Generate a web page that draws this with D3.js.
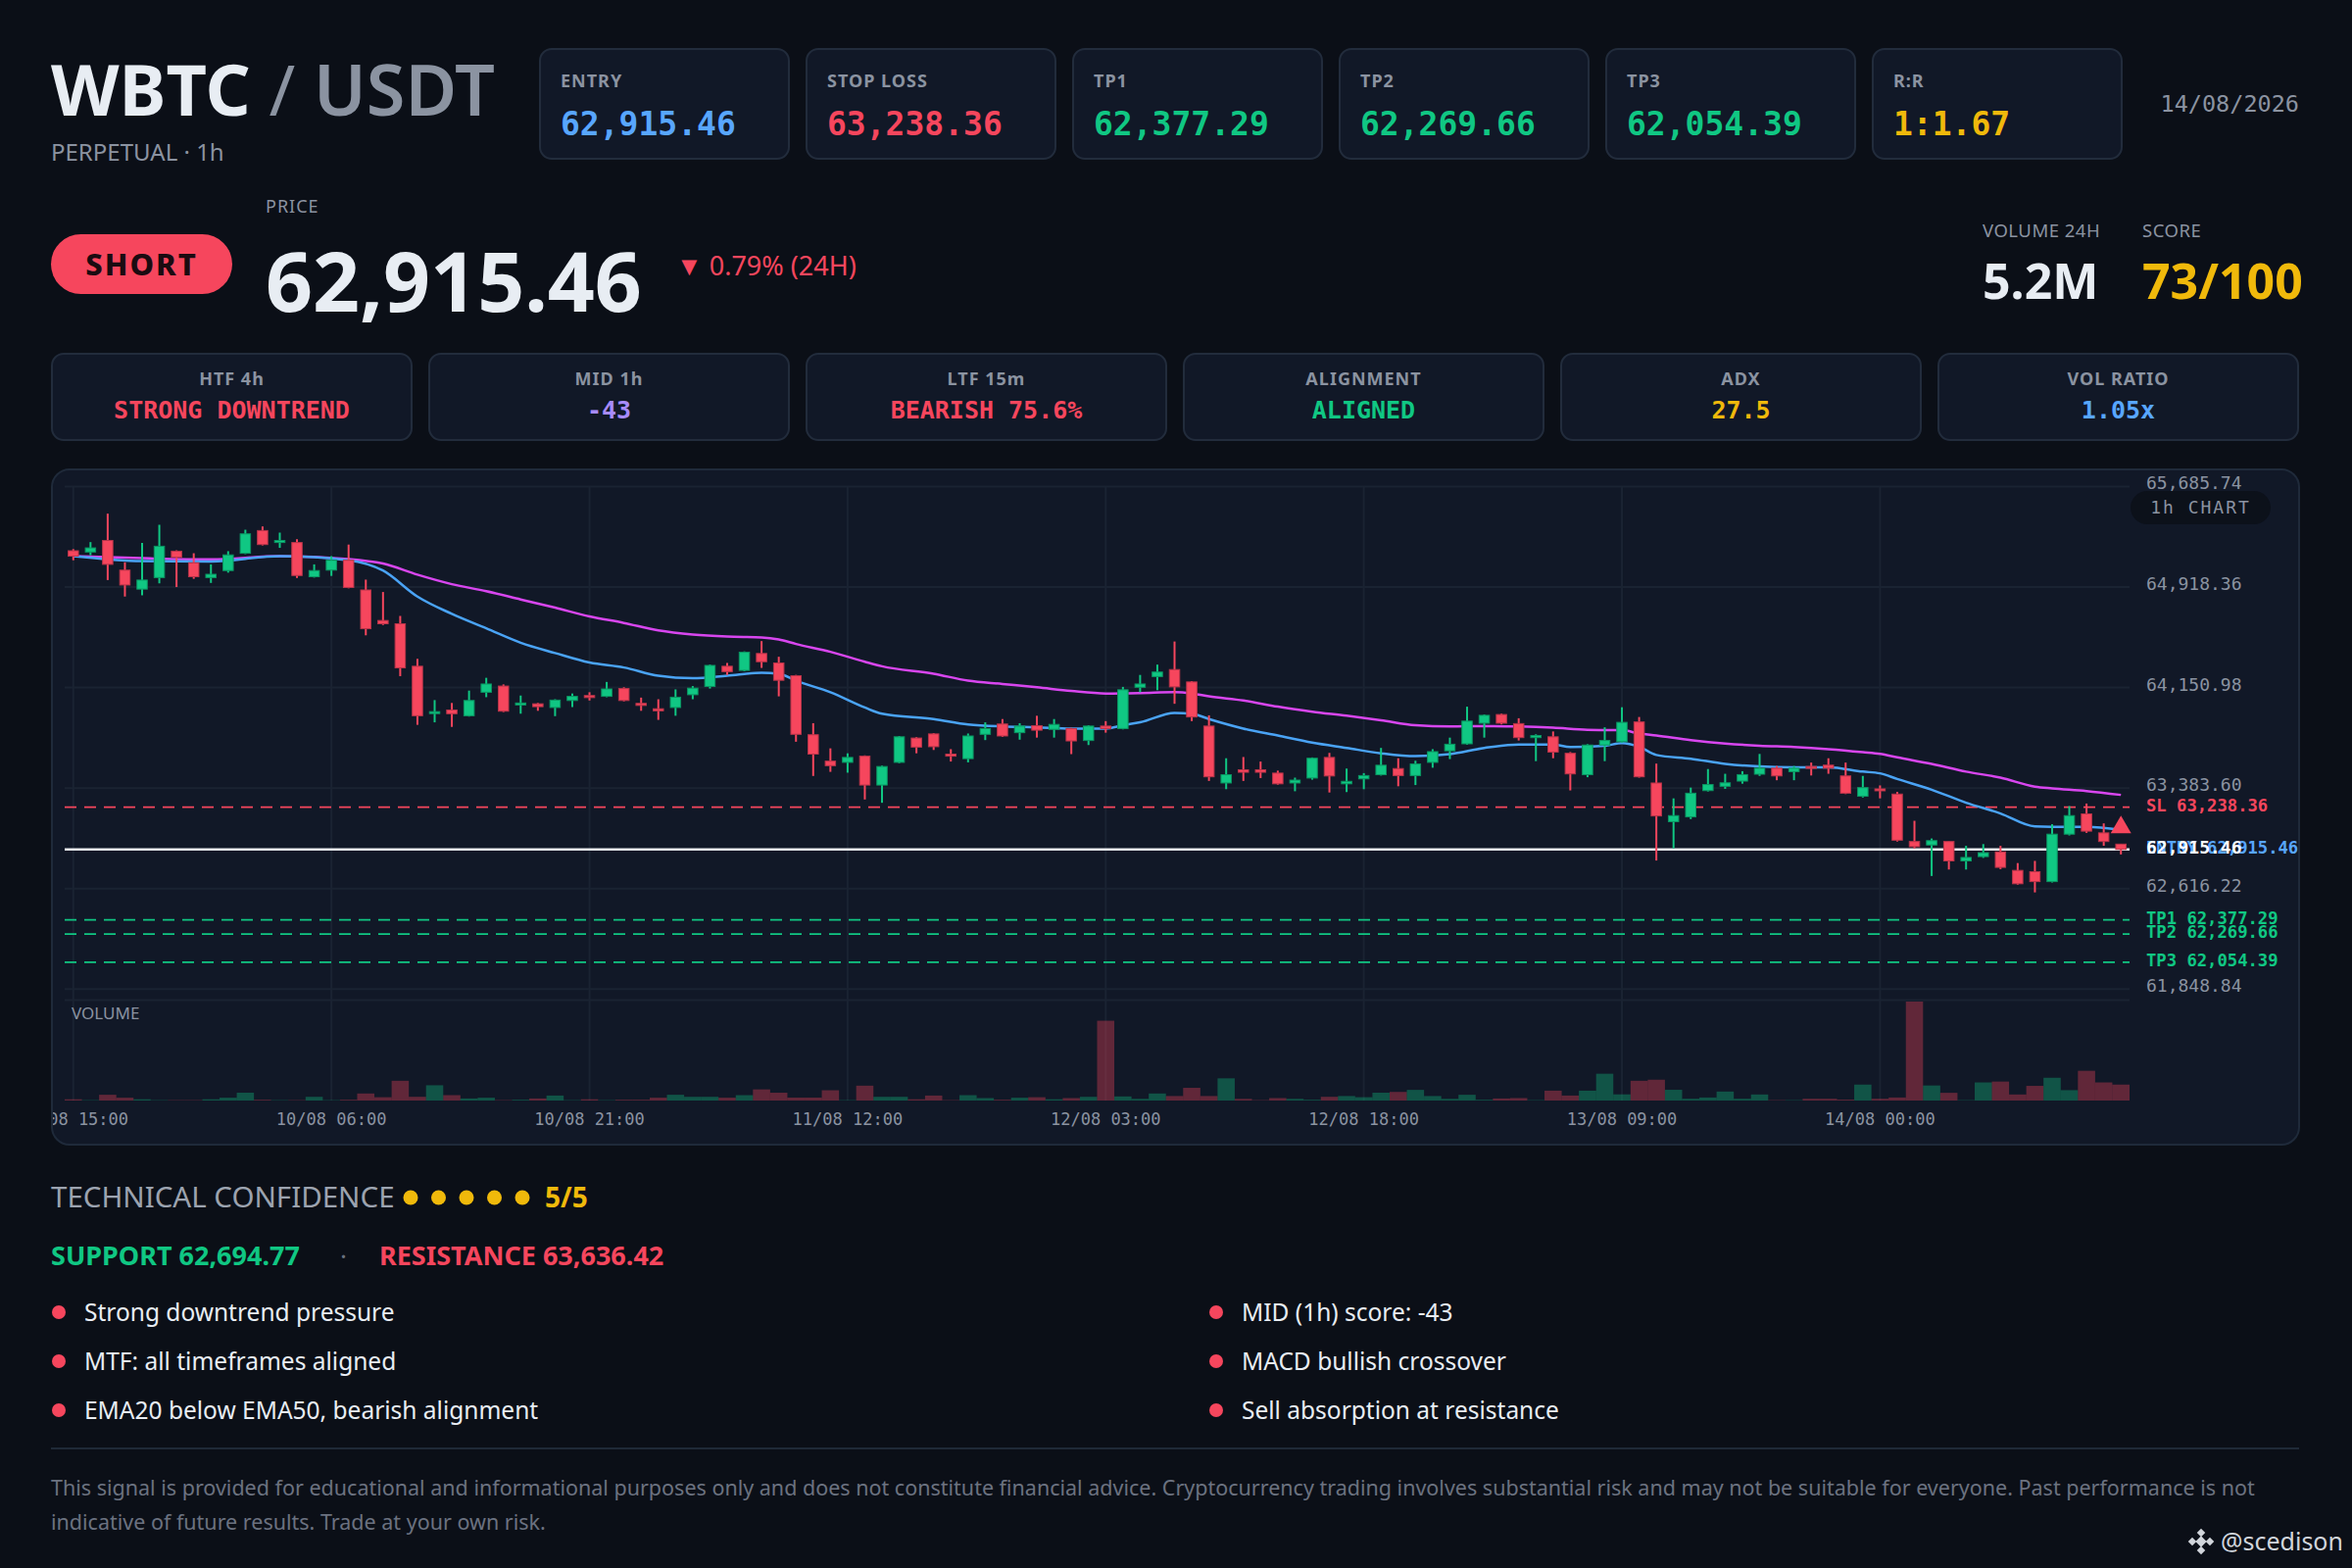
<!DOCTYPE html>
<html>
<head>
<meta charset="utf-8">
<script src="https://cdn.jsdelivr.net/npm/d3@7"></script>
<style>
  html, body { margin: 0; padding: 0; background: #0b0f17; }
  svg { display: block; }
</style>
</head>
<body>
<div id="signal"></div>
<script>
// ---------- data (index 0 = 09/08 15:00) ----------
const opens = [
  65195.0, 65185.5, 65273.7, 65047.0, 64902.1, 64990.3, 65191.8, 65103.6, 64990.3, 65043.8,
  65176.1, 65349.2, 65257.9, 65257.9, 64996.6, 65047.0, 65122.5, 64895.8, 64662.8, 64637.7,
  64313.4, 63954.4, 63979.6, 63935.5, 64115.0, 64162.2, 64020.5, 64026.8, 63998.5, 64052.0,
  64089.8, 64083.5, 64143.3, 64030.0, 63989.0, 63998.5, 64096.1, 64159.1, 64313.4, 64281.9,
  64411.0, 64338.6, 64240.9, 63790.7, 63589.1, 63579.7, 63626.9, 63406.5, 63579.7, 63765.5,
  63797.0, 63642.7, 63608.1, 63793.8, 63872.6, 63806.4, 63859.9, 63831.6, 63837.9, 63746.6,
  63856.8, 63837.9, 64152.8, 64234.6, 64288.2, 64193.7, 63856.8, 63422.3, 63523.0, 63523.0,
  63497.8, 63422.3, 63460.0, 63617.4, 63416.0, 63453.8, 63485.3, 63532.5, 63479.0, 63579.7,
  63667.9, 63721.4, 63878.8, 63945.0, 63875.7, 63768.6, 63774.9, 63649.0, 63485.3, 63712.0,
  63737.2, 63888.3, 63422.3, 63127.1, 63163.3, 63364.2, 63397.1, 63436.7, 63489.4, 63535.4,
  63509.1, 63548.6, 63558.5, 63476.2, 63321.4, 63377.4, 63337.8, 62975.6, 62949.3, 62975.6,
  62827.4, 62860.4, 62896.6, 62755.1, 62745.2, 62669.5, 63031.7, 63186.4, 63041.5, 62955.9
];
const highs = [
  65207.6, 65261.1, 65478.3, 65106.8, 65254.8, 65393.3, 65198.1, 65176.1, 65091.1, 65191.8,
  65355.5, 65380.7, 65333.5, 65283.1, 65091.1, 65154.0, 65242.2, 64974.6, 64880.1, 64697.5,
  64370.0, 64055.2, 64033.1, 64127.6, 64225.2, 64174.8, 64089.8, 64033.1, 64061.5, 64105.5,
  64115.0, 64193.7, 64152.8, 64074.0, 64061.5, 64137.0, 64162.2, 64326.0, 64338.6, 64426.7,
  64505.4, 64385.8, 64247.2, 63878.8, 63686.8, 63648.9, 63633.2, 63554.5, 63781.2, 63771.8,
  63803.3, 63680.5, 63800.1, 63885.2, 63910.4, 63878.8, 63935.5, 63910.4, 63844.2, 63863.1,
  63894.8, 64155.9, 64247.2, 64326.0, 64502.3, 64200.0, 63938.7, 63611.2, 63620.6, 63586.0,
  63516.7, 63463.2, 63617.4, 63652.1, 63532.5, 63497.8, 63690.0, 63611.2, 63592.4, 63680.5,
  63768.6, 64004.8, 63945.0, 63951.2, 63916.6, 63793.8, 63815.8, 63658.4, 63718.3, 63847.3,
  64000.5, 63926.1, 63570.3, 63304.9, 63387.2, 63528.8, 63492.6, 63512.4, 63644.1, 63551.9,
  63551.9, 63578.2, 63611.1, 63578.2, 63476.2, 63403.7, 63354.3, 63133.7, 62998.7, 62975.6,
  62942.8, 62955.9, 62942.8, 62811.0, 62827.5, 63107.5, 63245.8, 63265.5, 63114.0, 62955.9
];
const lows = [
  65122.5, 65160.3, 64971.4, 64845.5, 64854.9, 64946.2, 64917.9, 64980.8, 64949.4, 65028.1,
  65169.8, 65235.9, 65217.0, 64987.1, 64990.3, 65002.9, 64908.4, 64549.5, 64628.2, 64237.8,
  63866.3, 63885.2, 63850.5, 63929.2, 64077.2, 63963.9, 63951.2, 63973.3, 63932.4, 64001.6,
  64052.0, 64077.2, 64045.7, 63973.3, 63904.1, 63935.5, 64061.5, 64143.3, 64247.2, 64275.6,
  64300.8, 64083.5, 63737.1, 63475.8, 63507.3, 63501.0, 63296.4, 63271.2, 63573.4, 63649.0,
  63674.2, 63586.0, 63579.7, 63749.8, 63774.9, 63752.9, 63768.6, 63768.6, 63642.7, 63711.9,
  63806.4, 63831.6, 64115.0, 64130.7, 64026.8, 63894.6, 63438.0, 63375.1, 63438.0, 63460.0,
  63409.7, 63359.3, 63447.5, 63349.6, 63352.8, 63374.8, 63479.0, 63397.1, 63406.5, 63538.8,
  63604.9, 63715.1, 63768.6, 63869.4, 63746.6, 63589.1, 63611.2, 63365.6, 63466.3, 63589.1,
  63730.9, 63463.2, 62830.4, 62923.0, 63146.8, 63357.6, 63377.4, 63416.9, 63476.2, 63443.3,
  63443.3, 63479.5, 63492.6, 63337.8, 63311.5, 63305.0, 62975.6, 62923.0, 62712.3, 62761.7,
  62761.7, 62850.5, 62764.9, 62646.4, 62587.1, 62662.9, 63021.9, 63041.5, 62942.8, 62876.9
];
const closes = [
  65154.0, 65217.0, 65091.0, 64933.6, 64971.4, 65229.6, 65144.6, 64996.6, 65015.5, 65163.5,
  65324.0, 65242.2, 65273.7, 65006.0, 65043.8, 65122.5, 64914.7, 64599.8, 64637.7, 64300.8,
  63935.5, 63967.0, 63951.2, 64052.0, 64178.0, 63970.2, 64033.1, 64004.8, 64055.2, 64083.5,
  64074.0, 64140.2, 64052.0, 64014.2, 63973.3, 64077.2, 64146.5, 64319.7, 64272.4, 64420.4,
  64348.0, 64206.3, 63793.8, 63642.7, 63554.5, 63617.4, 63406.5, 63548.2, 63774.9, 63696.2,
  63699.4, 63626.9, 63781.2, 63837.9, 63781.2, 63856.8, 63825.3, 63869.4, 63743.4, 63856.8,
  63837.9, 64133.9, 64178.0, 64269.2, 64156.0, 63926.1, 63469.5, 63485.3, 63504.1, 63504.1,
  63416.0, 63444.3, 63611.2, 63475.8, 63434.9, 63479.0, 63557.7, 63479.0, 63567.2, 63661.6,
  63718.3, 63894.6, 63938.7, 63878.8, 63768.6, 63784.4, 63658.4, 63491.6, 63712.0, 63746.6,
  63885.2, 63469.5, 63170.4, 63173.2, 63344.4, 63410.3, 63423.5, 63486.1, 63535.4, 63476.2,
  63535.4, 63535.4, 63535.4, 63344.4, 63387.2, 63364.2, 62985.5, 62936.1, 62982.2, 62827.4,
  62853.8, 62890.0, 62778.1, 62653.0, 62669.5, 63031.7, 63173.2, 63054.7, 62975.6, 62915.46
];
const volumes = [
  1.3, 0.4, 5.9, 2.9, 1.3, 0.4, 0.4, 0.4, 1.3, 2.9,
  8.0, 0.8, 0.4, 0.4, 3.8, 0.4, 0.8, 7.2, 3.4, 20.2,
  3.8, 15.6, 5.5, 2.1, 2.9, 0.4, 0.8, 2.1, 5.1, 0.4,
  1.3, 0.4, 0.8, 0.8, 2.9, 5.9, 3.8, 3.8, 2.9, 5.5,
  11.4, 8.0, 3.0, 3.0, 10.5, 0.4, 15.2, 3.8, 3.8, 1.3,
  5.1, 0.4, 5.5, 2.5, 0.8, 2.9, 3.4, 1.3, 2.5, 3.8,
  81.6, 4.2, 1.7, 7.2, 4.6, 13.0, 4.6, 22.7, 1.7, 0.4,
  2.5, 1.7, 0.8, 3.8, 4.6, 3.4, 8.0, 8.8, 10.9, 4.6,
  1.7, 5.9, 0.8, 2.1, 2.5, 0.4, 10.1, 5.1, 10.1, 27.4,
  6.3, 20.2, 21.3, 11.0, 1.8, 3.1, 9.2, 1.8, 6.2, 0.4,
  0.4, 1.8, 1.8, 0.9, 16.3, 1.8, 3.1, 101.2, 15.4, 7.9,
  0.4, 18.5, 19.4, 6.2, 15.0, 23.3, 10.6, 30.4, 18.5, 16.3
];

// EMA lines, read at the candle index shown in the *Idx arrays
const ema20Idx = [0, 4, 8, 12, 16, 18, 20, 22, 24, 26, 28, 30, 32, 34, 36, 38, 40, 41, 42, 44,
  46, 47, 50, 52, 54, 56, 58, 60, 61, 62, 64, 65, 66, 68, 70, 72, 74, 76, 78, 80,
  82, 84, 86, 87, 89, 90, 91, 92, 94, 96, 98, 100, 102, 104, 105, 106, 108, 110, 112, 114,
  115, 117, 119];
const ema20 = [65154.0, 65116.2, 65113.1, 65154.0, 65122.5, 65043.8, 64845.5, 64713.2, 64603.0, 64493.0,
  64414.1, 64341.7, 64303.9, 64240.9, 64222.0, 64240.9, 64263.0, 64256.7, 64203.1, 64115.0,
  63998.5, 63951.2, 63910.4, 63869.4, 63853.6, 63847.3, 63837.9, 63837.9, 63863.1, 63885.2,
  63957.4, 63951.2, 63910.4, 63837.9, 63784.4, 63730.9, 63690.0, 63649.0, 63626.9, 63642.7,
  63690.0, 63715.1, 63715.1, 63696.2, 63705.7, 63727.7, 63699.4, 63636.4, 63607.8, 63568.3,
  63548.6, 63542.0, 63542.0, 63509.1, 63495.9, 63453.1, 63370.8, 63272.0, 63189.7, 63090.9,
  63087.6, 63087.6, 63064.6];
const ema50Idx = [0, 4, 8, 12, 16, 18, 20, 22, 24, 26, 28, 30, 32, 34, 36, 38, 40, 41, 42, 44,
  46, 47, 50, 52, 54, 56, 58, 60, 62, 64, 65, 66, 68, 70, 72, 74, 76, 78, 80, 82,
  84, 86, 88, 90, 91, 92, 94, 96, 98, 100, 102, 104, 105, 106, 108, 110, 112, 114, 115, 117,
  119];
const ema50 = [65154.0, 65138.3, 65128.8, 65154.0, 65132.0, 65097.3, 65012.3, 64939.9, 64886.4, 64823.4,
  64760.5, 64694.3, 64644.0, 64587.3, 64555.8, 64540.1, 64533.8, 64518.0, 64483.4, 64423.6,
  64348.0, 64313.4, 64256.7, 64203.1, 64178.0, 64152.8, 64124.4, 64105.5, 64108.7, 64115.0,
  64105.5, 64083.5, 64052.0, 64004.8, 63967.0, 63935.5, 63900.9, 63863.1, 63853.6, 63856.8,
  63853.6, 63844.2, 63828.4, 63825.3, 63800.1, 63785.0, 63749.5, 63723.1, 63706.6, 63696.8,
  63680.3, 63657.3, 63644.1, 63617.8, 63568.4, 63509.1, 63463.0, 63393.9, 63380.7, 63360.9,
  63331.3];

const yTicks = [61848.84, 62616.22, 63383.60, 64150.98, 64918.36, 65685.74];
const xTickIdx = [0, 15, 30, 45, 60, 75, 90, 105];
const xTickLabels = ["09/08 15:00", "10/08 06:00", "10/08 21:00", "11/08 12:00",
  "12/08 03:00", "12/08 18:00", "13/08 09:00", "14/08 00:00"];

const levelNames = ["SL", "ENTRY", "TP1", "TP2", "TP3"];
const levelValues = [63238.36, 62915.46, 62377.29, 62269.66, 62054.39];
const lastPrice = 62915.46;

const cardLabels = ["ENTRY", "STOP LOSS", "TP1", "TP2", "TP3", "R:R"];
const cardValues = ["62,915.46", "63,238.36", "62,377.29", "62,269.66", "62,054.39", "1:1.67"];
const mtfLabels = ["HTF 4h", "MID 1h", "LTF 15m", "ALIGNMENT", "ADX", "VOL RATIO"];
const mtfValues = ["STRONG DOWNTREND", "-43", "BEARISH 75.6%", "ALIGNED", "27.5", "1.05x"];
const reasonsLeft = ["Strong downtrend pressure", "MTF: all timeframes aligned", "EMA20 below EMA50, bearish alignment"];
const reasonsRight = ["MID (1h) score: -43", "MACD bullish crossover", "Sell absorption at resistance"];
const confidence = 5, confidenceMax = 5;
const support = "62,694.77", resistance = "63,636.42";
const disclaimer = [
  "This signal is provided for educational and informational purposes only and does not constitute financial advice. Cryptocurrency trading involves substantial risk and may not be suitable for everyone. Past performance is not",
  "indicative of future results. Trade at your own risk."
];

// ---------- styles ----------
const C = {
  bg: "#0b0f17", card: "#111827", border: "#222c3c", grid: "#1a2332",
  text: "#e8edf3", muted: "#8b93a1", dim: "#6b7280",
  green: "#10c783", red: "#f6465d", blue: "#58a6ff", amber: "#f0b90b", purple: "#a78bfa",
  ema20: "#4aa3f5", ema50: "#d846ef"
};
const SANS = "'Noto Sans', 'Open Sans', sans-serif";
const MONO = "'DejaVu Sans Mono', 'Liberation Mono', monospace";

const W = 2400, H = 1600;
const svg = d3.select("#signal").append("svg")
  .attr("width", W).attr("height", H)
  .style("font-family", SANS);
svg.append("rect").attr("width", W).attr("height", H).attr("fill", C.bg);

// ---------- header ----------
const title = svg.append("text").attr("x", 52).attr("y", 118)
  .attr("font-size", 72).attr("font-weight", 700);
title.append("tspan").attr("fill", C.text).text("WBTC");
title.append("tspan").attr("fill", C.muted).attr("font-weight", 400).text(" / ");
title.append("tspan").attr("fill", C.muted).attr("font-weight", 600).text("USDT");
svg.append("text").attr("x", 52).attr("y", 164).attr("font-size", 24)
  .attr("fill", C.muted).text("PERPETUAL · 1h");

const cardColor = { "ENTRY": C.blue, "STOP LOSS": C.red, "TP1": C.green, "TP2": C.green, "TP3": C.green, "R:R": C.amber };
const topCards = svg.selectAll("g.topcard").data(cardLabels).join("g")
  .attr("class", "topcard")
  .attr("transform", (d, i) => `translate(${551 + i * 272}, 50)`);
topCards.append("rect").attr("width", 254).attr("height", 112).attr("rx", 12)
  .attr("fill", C.card).attr("stroke", C.border).attr("stroke-width", 2);
topCards.append("text").attr("x", 21).attr("y", 39).attr("font-size", 18)
  .attr("font-weight", 700).attr("letter-spacing", 1).attr("fill", C.muted).text(d => d);
topCards.append("text").attr("x", 21).attr("y", 88).attr("font-size", 33)
  .attr("font-family", MONO).attr("font-weight", 700)
  .attr("fill", d => cardColor[d]).text((d, i) => cardValues[i]);

svg.append("text").attr("x", 2346).attr("y", 114).attr("text-anchor", "end")
  .attr("font-family", MONO).attr("font-size", 23.5).attr("fill", C.muted).text("14/08/2026");

// price row
svg.append("text").attr("x", 271).attr("y", 217).attr("font-size", 18)
  .attr("fill", C.muted).attr("letter-spacing", 1).text("PRICE");
svg.append("rect").attr("x", 52).attr("y", 239).attr("width", 185).attr("height", 61)
  .attr("rx", 30.5).attr("fill", C.red);
svg.append("text").attr("x", 144.5).attr("y", 281).attr("text-anchor", "middle")
  .attr("font-size", 31).attr("font-weight", 800).attr("letter-spacing", 2)
  .attr("fill", "#1b0b11").text("SHORT");
svg.append("text").attr("x", 271).attr("y", 318).attr("font-size", 84)
  .attr("font-weight", 700).attr("fill", C.text).text(d3.format(",.2f")(lastPrice));
svg.append("text").attr("x", 690).attr("y", 281).attr("font-size", 27)
  .attr("fill", C.red).text("▼ 0.79% (24H)");

svg.append("text").attr("x", 2023).attr("y", 242).attr("font-size", 18.5)
  .attr("fill", C.muted).attr("letter-spacing", 0.5).text("VOLUME 24H");
svg.append("text").attr("x", 2186).attr("y", 242).attr("font-size", 18.5)
  .attr("fill", C.muted).attr("letter-spacing", 0.5).text("SCORE");
svg.append("text").attr("x", 2023).attr("y", 305).attr("font-size", 50)
  .attr("font-weight", 700).attr("fill", C.text).text("5.2M");
svg.append("text").attr("x", 2186).attr("y", 305).attr("font-size", 50)
  .attr("font-weight", 700).attr("fill", C.amber).text("73/100");

// multi-timeframe cards
const mtfColor = { "HTF 4h": C.red, "MID 1h": C.purple, "LTF 15m": C.red, "ALIGNMENT": C.green, "ADX": C.amber, "VOL RATIO": C.blue };
const mtf = svg.selectAll("g.mtf").data(mtfLabels).join("g")
  .attr("class", "mtf")
  .attr("transform", (d, i) => `translate(${53 + i * 385}, 361)`);
mtf.append("rect").attr("width", 367).attr("height", 88).attr("rx", 12)
  .attr("fill", C.card).attr("stroke", C.border).attr("stroke-width", 2);
mtf.append("text").attr("x", 183.5).attr("y", 32).attr("text-anchor", "middle")
  .attr("font-size", 18).attr("font-weight", 700).attr("letter-spacing", 1)
  .attr("fill", C.muted).text(d => d);
mtf.append("text").attr("x", 183.5).attr("y", 66).attr("text-anchor", "middle")
  .attr("font-size", 25).attr("font-family", MONO).attr("font-weight", 700)
  .attr("fill", d => mtfColor[d]).text((d, i) => mtfValues[i]);

// ---------- chart panel ----------
const panel = { x: 53, y: 479, w: 2293, h: 689 };
svg.append("rect").attr("x", panel.x).attr("y", panel.y).attr("width", panel.w)
  .attr("height", panel.h).attr("rx", 18).attr("fill", "#111827")
  .attr("stroke", "#1f2a3a").attr("stroke-width", 2);
svg.append("clipPath").attr("id", "panelClip").append("rect")
  .attr("x", panel.x + 1).attr("y", panel.y + 1).attr("width", panel.w - 2)
  .attr("height", panel.h - 2).attr("rx", 17);
const chart = svg.append("g").attr("clip-path", "url(#panelClip)");

const candles = opens.map((o, i) => ({ i, o, h: highs[i], l: lows[i], c: closes[i], v: volumes[i] }));

const x = d3.scaleBand().domain(candles.map(d => d.i)).range([66, 2173]);
const bw = x.bandwidth();
const cx = i => x(i) + bw / 2;
const y = d3.scaleLinear().domain([yTicks[0], yTicks[yTicks.length - 1]]).range([1009.3, 496.4]);
const yv = d3.scaleLinear().domain([0, d3.max(volumes)]).range([1123, 1022]);

// grid
chart.append("g").selectAll("line").data(yTicks).join("line")
  .attr("x1", 66).attr("x2", 2173).attr("y1", d => y(d)).attr("y2", d => y(d))
  .attr("stroke", C.grid).attr("stroke-width", 2);
chart.append("g").selectAll("line").data(xTickIdx).join("line")
  .attr("x1", d => cx(d)).attr("x2", d => cx(d)).attr("y1", 496).attr("y2", 1123)
  .attr("stroke", C.grid).attr("stroke-width", 2);
chart.append("line").attr("x1", 66).attr("x2", 2173).attr("y1", 1020.5).attr("y2", 1020.5)
  .attr("stroke", C.grid).attr("stroke-width", 2);

// volume
chart.append("text").attr("x", 73).attr("y", 1040).attr("font-size", 17)
  .attr("fill", C.muted).text("VOLUME");
chart.append("g").selectAll("rect").data(candles).join("rect")
  .attr("x", d => x(d.i)).attr("width", bw)
  .attr("y", d => yv(d.v)).attr("height", d => yv(0) - yv(d.v))
  .attr("fill", d => d.c >= d.o ? C.green : C.red).attr("fill-opacity", 0.35);

// level lines
const levelColor = { SL: C.red, ENTRY: "#e5e7eb", TP1: C.green, TP2: C.green, TP3: C.green };
chart.append("g").selectAll("line").data(levelNames).join("line")
  .attr("x1", 66).attr("x2", 2173)
  .attr("y1", (d, i) => y(levelValues[i])).attr("y2", (d, i) => y(levelValues[i]))
  .attr("stroke", d => levelColor[d])
  .attr("stroke-width", d => d === "ENTRY" ? 2.5 : 1.8)
  .attr("stroke-dasharray", d => d === "ENTRY" ? null : "12,8");

// EMA lines
const line = d3.line().x(d => cx(d[0])).y(d => y(d[1])).curve(d3.curveMonotoneX);
chart.append("path").datum(ema50Idx.map((k, j) => [k, ema50[j]]))
  .attr("d", line).attr("fill", "none").attr("stroke", C.ema50).attr("stroke-width", 2.5);
chart.append("path").datum(ema20Idx.map((k, j) => [k, ema20[j]]))
  .attr("d", line).attr("fill", "none").attr("stroke", C.ema20).attr("stroke-width", 2.5);

// candles
const cg = chart.append("g").selectAll("g").data(candles).join("g");
cg.append("line")
  .attr("x1", d => cx(d.i)).attr("x2", d => cx(d.i))
  .attr("y1", d => y(d.h)).attr("y2", d => y(d.l))
  .attr("stroke", d => d.c >= d.o ? C.green : C.red).attr("stroke-width", 2);
cg.append("rect")
  .attr("x", d => x(d.i) + bw * 0.2).attr("width", bw * 0.6)
  .attr("y", d => y(Math.max(d.o, d.c)))
  .attr("height", d => Math.max(2, Math.abs(y(d.o) - y(d.c))))
  .attr("fill", d => d.c >= d.o ? C.green : C.red)
  .attr("stroke", d => d.c >= d.o ? "#0b9562" : "#b83449").attr("stroke-width", 1);

// short marker over the last candle
const last = candles[candles.length - 1];
chart.append("path")
  .attr("d", d3.symbol().type(d3.symbolTriangle).size(190))
  .attr("transform", `translate(${cx(last.i)}, ${y(last.h) - 17})`)
  .attr("fill", C.red);

// axes text
chart.append("g").selectAll("text").data(xTickIdx).join("text")
  .attr("x", d => cx(d)).attr("y", 1148).attr("text-anchor", "middle")
  .attr("font-family", MONO).attr("font-size", 17).attr("fill", C.muted)
  .text((d, i) => xTickLabels[i]);
chart.append("g").selectAll("text").data(yTicks).join("text")
  .attr("x", 2190).attr("y", d => y(d) - 2).attr("dominant-baseline", "middle")
  .attr("font-family", MONO).attr("font-size", 18).attr("fill", C.muted)
  .text(d => d3.format(",.2f")(d));

// level labels on the right
chart.append("g").selectAll("text").data(levelNames).join("text")
  .attr("x", 2190).attr("y", (d, i) => y(levelValues[i]) - 1)
  .attr("dominant-baseline", "middle")
  .attr("font-family", MONO).attr("font-size", 17.2).attr("font-weight", 700)
  .attr("fill", d => d === "ENTRY" ? C.blue : levelColor[d])
  .text((d, i) => d + " " + d3.format(",.2f")(levelValues[i]));
chart.append("text").attr("x", 2190).attr("y", y(lastPrice) - 1)
  .attr("dominant-baseline", "middle")
  .attr("font-family", MONO).attr("font-size", 18).attr("font-weight", 700)
  .attr("fill", "#ffffff").text(d3.format(",.2f")(lastPrice));

// 1h CHART badge
chart.append("rect").attr("x", 2174).attr("y", 501).attr("width", 143).attr("height", 34)
  .attr("rx", 17).attr("fill", "#0b0f17").attr("fill-opacity", 0.75);
chart.append("text").attr("x", 2245.5).attr("y", 524).attr("text-anchor", "middle")
  .attr("font-family", MONO).attr("font-size", 18).attr("letter-spacing", 2)
  .attr("fill", C.muted).text("1h CHART");

// ---------- confidence, levels, reasons ----------
svg.append("text").attr("x", 52).attr("y", 1232).attr("font-size", 29.5)
  .attr("fill", "#9ca3af").text("TECHNICAL CONFIDENCE");
svg.append("g").selectAll("circle").data(d3.range(confidenceMax)).join("circle")
  .attr("cx", d => 419 + d * 28.5).attr("cy", 1222).attr("r", 7.5)
  .attr("fill", d => d < confidence ? C.amber : "#374151");
svg.append("text").attr("x", 556).attr("y", 1232).attr("font-size", 28)
  .attr("font-weight", 700).attr("fill", C.amber).text(`${confidence}/${confidenceMax}`);

svg.append("text").attr("x", 52).attr("y", 1291).attr("font-size", 27)
  .attr("font-weight", 700).attr("fill", C.green).text("SUPPORT " + support);
svg.append("text").attr("x", 347).attr("y", 1291).attr("font-size", 26)
  .attr("fill", C.dim).text("·");
svg.append("text").attr("x", 387).attr("y", 1291).attr("font-size", 27)
  .attr("font-weight", 700).attr("fill", C.red).text("RESISTANCE " + resistance);

function reasons(list, x0) {
  const g = svg.append("g").selectAll("g").data(list).join("g")
    .attr("transform", (d, i) => `translate(${x0}, ${1339 + i * 50})`);
  g.append("circle").attr("cx", 0).attr("cy", 0).attr("r", 7).attr("fill", C.red);
  g.append("text").attr("x", 26).attr("y", 9).attr("font-size", 24.5)
    .attr("fill", C.text).text(d => d);
}
reasons(reasonsLeft, 60);
reasons(reasonsRight, 1241);

svg.append("line").attr("x1", 52).attr("x2", 2346).attr("y1", 1478).attr("y2", 1478)
  .attr("stroke", "#1f2937").attr("stroke-width", 2);
svg.append("g").selectAll("text").data(disclaimer).join("text")
  .attr("x", 52).attr("y", (d, i) => 1526 + i * 35)
  .attr("font-size", 21.5).attr("fill", C.dim).text(d => d);

// watermark
const wm = svg.append("g").attr("transform", "translate(2246, 1573)").attr("fill", "#d1d5db");
[[0, 0, 4], [0, -9, 3], [0, 9, 3], [-9, 0, 3], [9, 0, 3]].forEach(p => {
  wm.append("rect").attr("x", p[0] - p[2]).attr("y", p[1] - p[2])
    .attr("width", p[2] * 2).attr("height", p[2] * 2)
    .attr("transform", `rotate(45 ${p[0]} ${p[1]})`);
});
svg.append("text").attr("x", 2266).attr("y", 1582).attr("font-size", 25)
  .attr("fill", "#d1d5db").text("@scedison");
</script>
</body>
</html>
